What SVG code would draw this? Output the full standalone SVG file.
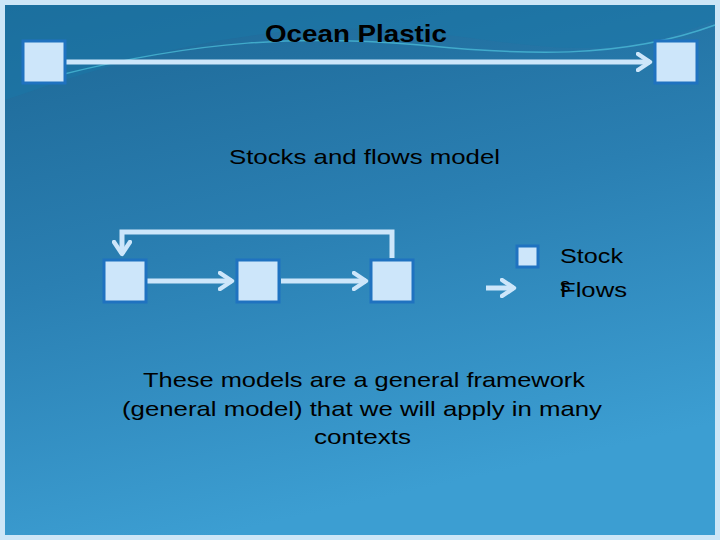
<svg xmlns="http://www.w3.org/2000/svg" width="720" height="540" viewBox="0 0 720 540">
<defs>
<linearGradient id="bg" x1="0" y1="0" x2="0.3" y2="1">
<stop offset="0" stop-color="#1d6795"/><stop offset="0.5" stop-color="#2a7fb2"/><stop offset="1" stop-color="#3c9ed2"/>
</linearGradient>
<marker id="ah" viewBox="0 0 10 10" refX="7" refY="5" markerWidth="4" markerHeight="4" orient="auto-start-reverse" markerUnits="strokeWidth">
<path d="M1,1 L7,5 L1,9" fill="none" stroke="#cde6fa" stroke-width="2.2" stroke-linecap="round" stroke-linejoin="round"/>
</marker>
<style>
.box{fill:#cde6fa;stroke:#1f72c0;stroke-width:3}
.fl{fill:none;stroke:#cde6fa;stroke-width:5;marker-end:url(#ah)}
.t{font-family:"Liberation Sans",Arial,sans-serif;fill:#000}
</style>
</defs>
<rect width="720" height="540" fill="#cde6f7"/>
<rect x="5" y="5" width="710" height="530" fill="url(#bg)"/>
<path d="M5,100 C120,60 250,20 400,30 C520,40 600,70 715,20 L715,5 L5,5 Z" fill="#1a78a8" opacity="0.5"/>
<path d="M60,75 C200,40 300,35 420,45 C520,55 620,60 715,25" fill="none" stroke="#4fc3dd" stroke-width="1.5" opacity="0.7"/>
<g id="connectors">
<line class="fl" x1="66" y1="62" x2="650" y2="62"/>
<line class="fl" x1="147" y1="281" x2="232" y2="281"/>
<line class="fl" x1="281" y1="281" x2="366" y2="281"/>
<polyline class="fl" points="392,258 392,232 122,232 122,254"/>
<line class="fl" x1="486" y1="288" x2="514" y2="288"/>
</g>
<g id="title"><text class="t" x="265" y="42" font-size="24" font-weight="bold" textLength="182" lengthAdjust="spacingAndGlyphs">Ocean Plastic</text></g>
<g id="top-left"><rect class="box" x="23" y="41" width="42" height="42"/></g>
<g id="top-right"><rect class="box" x="655" y="41" width="42" height="42"/></g>
<g id="subtitle"><text class="t" x="229" y="164" font-size="21" textLength="271" lengthAdjust="spacingAndGlyphs">Stocks and flows model</text></g>
<g id="s1"><rect class="box" x="104" y="260" width="42" height="42"/></g>
<g id="s2"><rect class="box" x="237" y="260" width="42" height="42"/></g>
<g id="s3"><rect class="box" x="371" y="260" width="42" height="42"/></g>
<g id="legend">
<rect class="box" x="517" y="246" width="21" height="21"/>
<text class="t" x="560" y="263" font-size="21" textLength="63" lengthAdjust="spacingAndGlyphs">Stock</text>
<text class="t" x="560" y="292" font-size="21">s</text>
<text class="t" x="560" y="297" font-size="21" textLength="67" lengthAdjust="spacingAndGlyphs">Flows</text>
</g>
<g id="caption">
<text class="t" x="143" y="387" font-size="21" textLength="442" lengthAdjust="spacingAndGlyphs">These models are a general framework</text>
<text class="t" x="122" y="416" font-size="21" textLength="480" lengthAdjust="spacingAndGlyphs">(general model) that we will apply in many</text>
<text class="t" x="314" y="444" font-size="21" textLength="97" lengthAdjust="spacingAndGlyphs">contexts</text>
</g>
</svg>
